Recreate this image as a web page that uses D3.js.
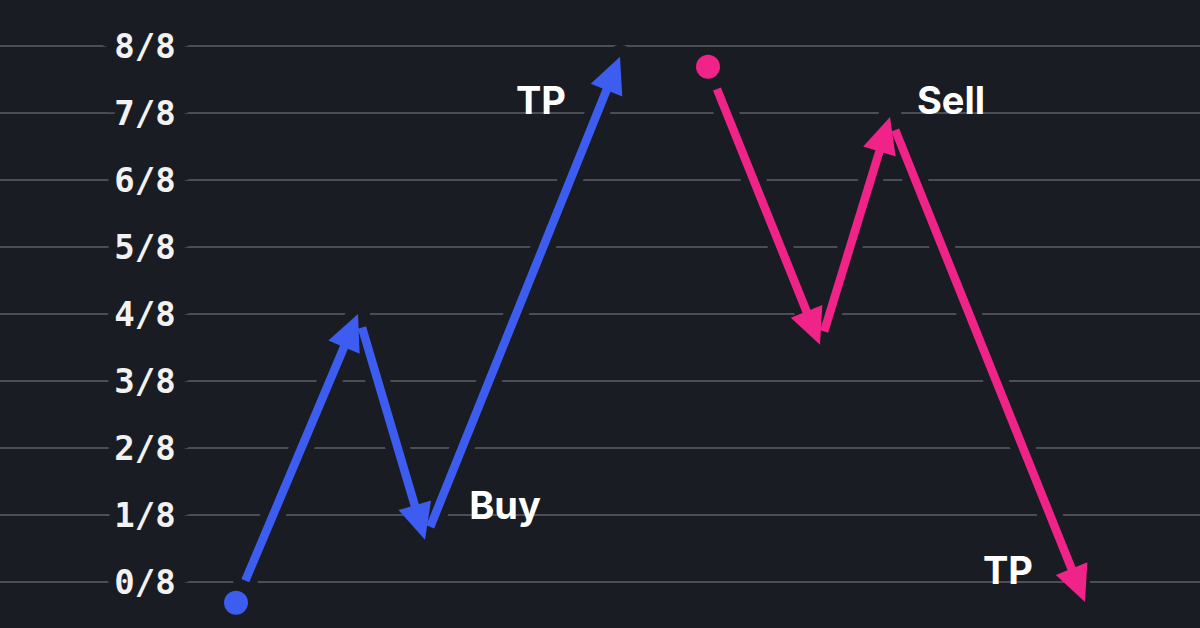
<!DOCTYPE html>
<html>
<head>
<meta charset="utf-8">
<script src="https://cdn.jsdelivr.net/npm/d3@7"></script>
<style>
  body { margin: 0; background: #1a1c23; }
  svg { display: block; }
</style>
</head>
<body>
<div id="chart"></div>
<script>
const width = 1200, height = 628;
const bg = "#1a1c23";

// tick labels (eighths)
const levels = [0, 1, 2, 3, 4, 5, 6, 7, 8];
const levelLabels = levels.map(d => `${d}/8`);

// buy path: start dot then arrow tips
const buyX = [236, 358, 425, 620];
const buyY = [-0.31, 4.0, 0.63, 7.84];
// sell path
const sellX = [708, 820, 890, 1085];
const sellY = [7.69, 3.54, 6.94, -0.3];

const labels = [
  { text: "TP", x: 541, y: 7.19 },
  { text: "Buy", x: 505, y: 1.15 },
  { text: "Sell", x: 951, y: 7.19 },
  { text: "TP", x: 1008, y: 0.18 }
];

const x = d3.scaleLinear().domain([0, width]).range([0, width]);
const y = d3.scaleLinear().domain([0, 8]).range([582, 46]);

const svg = d3.select("#chart").append("svg")
  .attr("width", width).attr("height", height);

svg.append("rect").attr("width", width).attr("height", height).attr("fill", bg);

// gridlines
svg.append("g").selectAll("line").data(levels).join("line")
  .attr("x1", 0).attr("x2", width)
  .attr("y1", d => y(d)).attr("y2", d => y(d))
  .attr("stroke", "#4b4e57").attr("stroke-width", 2);

// tick labels with halo cutting gridlines
svg.append("g").selectAll("text").data(levels).join("text")
  .attr("x", 145).attr("y", d => y(d))
  .attr("dy", "0.36em")
  .attr("text-anchor", "middle")
  .attr("font-family", "DejaVu Sans Mono")
  .attr("font-weight", "bold")
  .attr("font-size", 34)
  .attr("fill", "#f2f2f2")
  .attr("stroke", bg).attr("stroke-width", 16)
  .attr("paint-order", "stroke")
  .text((d, i) => levelLabels[i]);

function drawPath(xs, ys, color) {
  const pts = xs.map((d, i) => [x(d), y(ys[i])]);
  const segs = [];
  for (let i = 0; i < pts.length - 1; i++) {
    let [x0, y0] = pts[i];
    const [x1, y1] = pts[i + 1];
    const len = Math.hypot(x1 - x0, y1 - y0);
    const off = i === 0 ? 24 : 14;
    x0 += (x1 - x0) / len * off;
    y0 += (y1 - y0) / len * off;
    segs.push([x0, y0, x1, y1]);
  }
  const g = svg.append("g");
  const unit = d => {
    const l = Math.hypot(d[2] - d[0], d[3] - d[1]);
    return [(d[2] - d[0]) / l, (d[3] - d[1]) / l];
  };
  // halo
  g.selectAll("line.h").data(segs).join("line").attr("class", "h")
    .attr("x1", d => d[0]).attr("y1", d => d[1])
    .attr("x2", d => d[2]).attr("y2", d => d[3])
    .attr("stroke", bg).attr("stroke-width", 24)
    .attr("stroke-linecap", "round");
  g.selectAll("line.s").data(segs).join("line").attr("class", "s")
    .attr("x1", d => d[0]).attr("y1", d => d[1])
    .attr("x2", d => d[2] - unit(d)[0] * 22)
    .attr("y2", d => d[3] - unit(d)[1] * 22)
    .attr("stroke", color).attr("stroke-width", 8.5);
  g.selectAll("path.m").data(segs).join("path").attr("class", "m")
    .attr("d", d => {
      const [ux, uy] = unit(d);
      const L = 36, W = 17;
      const bx = d[2] - ux * L, by = d[3] - uy * L;
      const px = -uy * W, py = ux * W;
      return `M${d[2]},${d[3]}L${bx + px},${by + py}L${bx - px},${by - py}Z`;
    })
    .attr("fill", color);
  g.append("circle")
    .attr("cx", pts[0][0]).attr("cy", pts[0][1]).attr("r", 12)
    .attr("fill", color);
}

drawPath(buyX, buyY, "#3d5cf0");
drawPath(sellX, sellY, "#ef2388");

svg.append("g").selectAll("text").data(labels).join("text")
  .attr("x", d => x(d.x)).attr("y", d => y(d.y))
  .attr("dy", "0.36em")
  .attr("text-anchor", "middle")
  .attr("font-family", "Inter")
  .attr("font-weight", 700)
  .attr("font-size", 38)
  .attr("fill", "#ffffff")
  .text(d => d.text);
</script>
</body>
</html>
